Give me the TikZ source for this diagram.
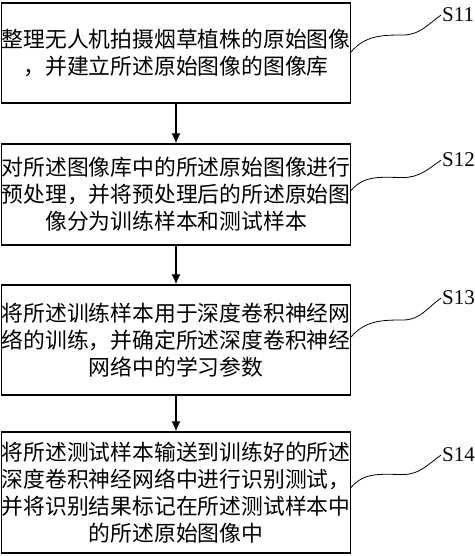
\documentclass[tikz,border=0pt]{standalone}
\usepackage{fontspec}
\newfontfamily\cjk{Noto Sans CJK SC}
\setmainfont{Liberation Serif}
\usetikzlibrary{arrows.meta,calc}
\tikzset{
  stepbox/.style={draw, line width=1.3pt, minimum width=344pt, inner sep=0pt, align=center,
    font=\cjk\fontsize{21.8pt}{27pt}\selectfont},
  flow/.style={line width=1.3pt, -{Latex[length=10pt,width=9pt]}},
  steplabel/.style={anchor=base west, inner sep=1pt, font=\fontsize{21pt}{24pt}\selectfont},
  wave/.style={line width=0.8pt}
}
\begin{document}
\begin{tikzpicture}[x=1pt,y=1pt]
\useasboundingbox (0,0) rectangle (474,556);
\node[stepbox, minimum height=100pt] (b1) at (176,503) {整理无人机拍摄烟草植株的原始图像\\，并建立所述原始图像的图像库};
\node[stepbox, minimum height=101pt] (b2) at (176,361.5) {对所述图像库中的所述原始图像进行\\预处理，并将预处理后的所述原始图\\像分为训练样本和测试样本};
\node[stepbox, minimum height=110pt] (b3) at (176,216) {将所述训练样本用于深度卷积神经网\\络的训练，并确定所述深度卷积神经\\网络中的学习参数};
\node[stepbox, minimum height=121pt] (b4) at (176,63.5) {将所述测试样本输送到训练好的所述\\深度卷积神经网络中进行识别测试，\\并将识别结果标记在所述测试样本中\\的所述原始图像中};
\draw[flow] (b1) -- (b2);
\draw[flow] (b2) -- (b3);
\draw[flow] (b3) -- (b4);
\node[steplabel] (l1) at (441,534) {S11};
\node[steplabel] (l2) at (441,389) {S12};
\node[steplabel] (l3) at (441,251) {S13};
\node[steplabel] (l4) at (441,94) {S14};
\draw[wave] ($(b1.east)+(0,1)$) to[out=50,in=180] ++(52,17) to[out=0,in=215] (l1.west);
\draw[wave] ($(b2.east)+(0,4)$) to[out=50,in=180] ++(52,13) to[out=0,in=215] (l2.west);
\draw[wave] ($(b3.east)+(0,3)$) to[out=50,in=180] ++(52,17) to[out=0,in=215] (l3.west);
\draw[wave] ($(b4.east)+(0,5)$) to[out=50,in=180] ++(52,13) to[out=0,in=215] (l4.west);
\end{tikzpicture}
\end{document}
